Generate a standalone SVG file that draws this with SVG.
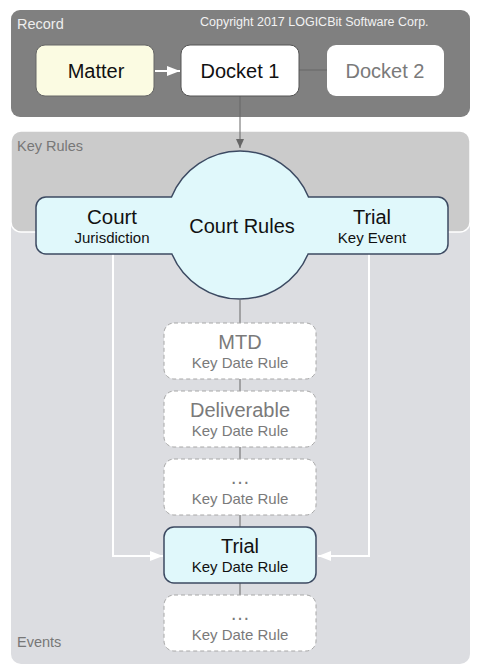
<svg xmlns="http://www.w3.org/2000/svg" width="480" height="672" viewBox="0 0 480 672">
<defs>
<style>
text{font-family:"Liberation Sans",Arial,sans-serif;text-anchor:middle}
.lbl{text-anchor:start;font-size:14.5px}
.dash{fill:#ffffff;stroke:#a8a8a8;stroke-width:1;stroke-dasharray:4 3}
.cyan{fill:#e0f8fb;stroke:#3c4a62;stroke-width:1.5}
.t1{font-size:20px}
.t2{font-size:15px}
.grey{fill:#7a7a7a}
.gline{stroke:#666;stroke-width:1;fill:none}
.wline{stroke:#ffffff;stroke-width:2;fill:none}
</style>
<marker id="ag" markerWidth="10" markerHeight="10" refX="9" refY="5" orient="auto" markerUnits="userSpaceOnUse">
<path d="M0,1 L9,5 L0,9 Z" fill="#666"/>
</marker>
<marker id="aw" markerWidth="14" markerHeight="12" refX="13" refY="6" orient="auto" markerUnits="userSpaceOnUse">
<path d="M0,1 L13,6 L0,11 Z" fill="#ffffff"/>
</marker>
</defs>

<g id="panels">
<rect x="11" y="131" width="459" height="533" rx="10" fill="#dcdde1"/>
<rect x="11" y="131" width="459" height="101" rx="10" fill="#cbcbcb" stroke="#ffffff" stroke-width="1.5"/>
<rect x="11" y="10" width="459" height="107" rx="9" fill="#808080"/>
<text class="lbl" x="17" y="29" fill="#eeeeee">Record</text>
<text x="200" y="26" font-size="12.5" fill="#f2f2f2" style="text-anchor:start">Copyright 2017 LOGICBit Software Corp.</text>
<text class="lbl" x="17" y="151" fill="#777">Key Rules</text>
<text class="lbl" x="17" y="647" fill="#777">Events</text>
</g>

<g id="connectors">
<line class="wline" x1="155" y1="71" x2="180" y2="71" marker-end="url(#aw)"/>
<line class="gline" x1="299" y1="70" x2="327" y2="70"/>
<line class="gline" x1="240" y1="96" x2="240" y2="148" marker-end="url(#ag)"/>
<line class="gline" x1="240" y1="300" x2="240" y2="323"/>
<line class="gline" x1="240" y1="379" x2="240" y2="391"/>
<line class="gline" x1="240" y1="447" x2="240" y2="459"/>
<line class="gline" x1="240" y1="515" x2="240" y2="527"/>
<line class="gline" x1="240" y1="583" x2="240" y2="595"/>
<polyline class="wline" points="113,254 113,556 163,556" marker-end="url(#aw)"/>
<polyline class="wline" points="369,254 369,556 318,556" marker-end="url(#aw)"/>
</g>

<g id="matter">
<rect x="36" y="45" width="118" height="51" rx="9" fill="#fbfbe2" stroke="#666" stroke-width="1"/>
<text class="t1" x="96" y="78" fill="#111">Matter</text>
</g>
<g id="docket1">
<rect x="181" y="45" width="118" height="51" rx="9" fill="#ffffff" stroke="#555" stroke-width="1"/>
<text class="t1" x="240" y="78" fill="#111">Docket 1</text>
</g>
<g id="docket2">
<rect x="327" y="45" width="117" height="51" rx="9" fill="#ffffff"/>
<text class="t1 grey" x="385" y="78">Docket 2</text>
</g>

<g id="court-rules">
<path class="cyan" d="M171.5,197 A74,74 0 0 1 308.5,197 L438,197 A10,10 0 0 1 448,207 L448,244 A10,10 0 0 1 438,254 L308.1,254 A74,74 0 0 1 171.9,254 L46,254 A10,10 0 0 1 36,244 L36,207 A10,10 0 0 1 46,197 Z"/>
<text x="112" y="224" font-size="20.5" fill="#111">Court</text>
<text x="112" y="243" font-size="15" fill="#111">Jurisdiction</text>
<text x="242" y="233" font-size="20" fill="#111">Court Rules</text>
<text x="372" y="224" font-size="20" fill="#111">Trial</text>
<text x="372" y="243" font-size="15" fill="#111">Key Event</text>
</g>

<g id="mtd">
<rect class="dash" x="164" y="323" width="152" height="56" rx="10"/>
<text class="t1 grey" x="240" y="349">MTD</text>
<text class="t2 grey" x="240" y="368">Key Date Rule</text>
</g>
<g id="deliverable">
<rect class="dash" x="164" y="391" width="152" height="56" rx="10"/>
<text class="t1 grey" x="240" y="417">Deliverable</text>
<text class="t2 grey" x="240" y="436">Key Date Rule</text>
</g>
<g id="more1">
<rect class="dash" x="164" y="459" width="152" height="56" rx="10"/>
<text class="t1 grey" x="240" y="484">…</text>
<text class="t2 grey" x="240" y="504">Key Date Rule</text>
</g>
<g id="trial">
<rect class="cyan" x="164" y="527" width="152" height="56" rx="10"/>
<text class="t1" x="240" y="553" fill="#111">Trial</text>
<text class="t2" x="240" y="572" fill="#111">Key Date Rule</text>
</g>
<g id="more2">
<rect class="dash" x="164" y="595" width="152" height="56" rx="10"/>
<text class="t1 grey" x="240" y="620">…</text>
<text class="t2 grey" x="240" y="640">Key Date Rule</text>
</g>
</svg>
